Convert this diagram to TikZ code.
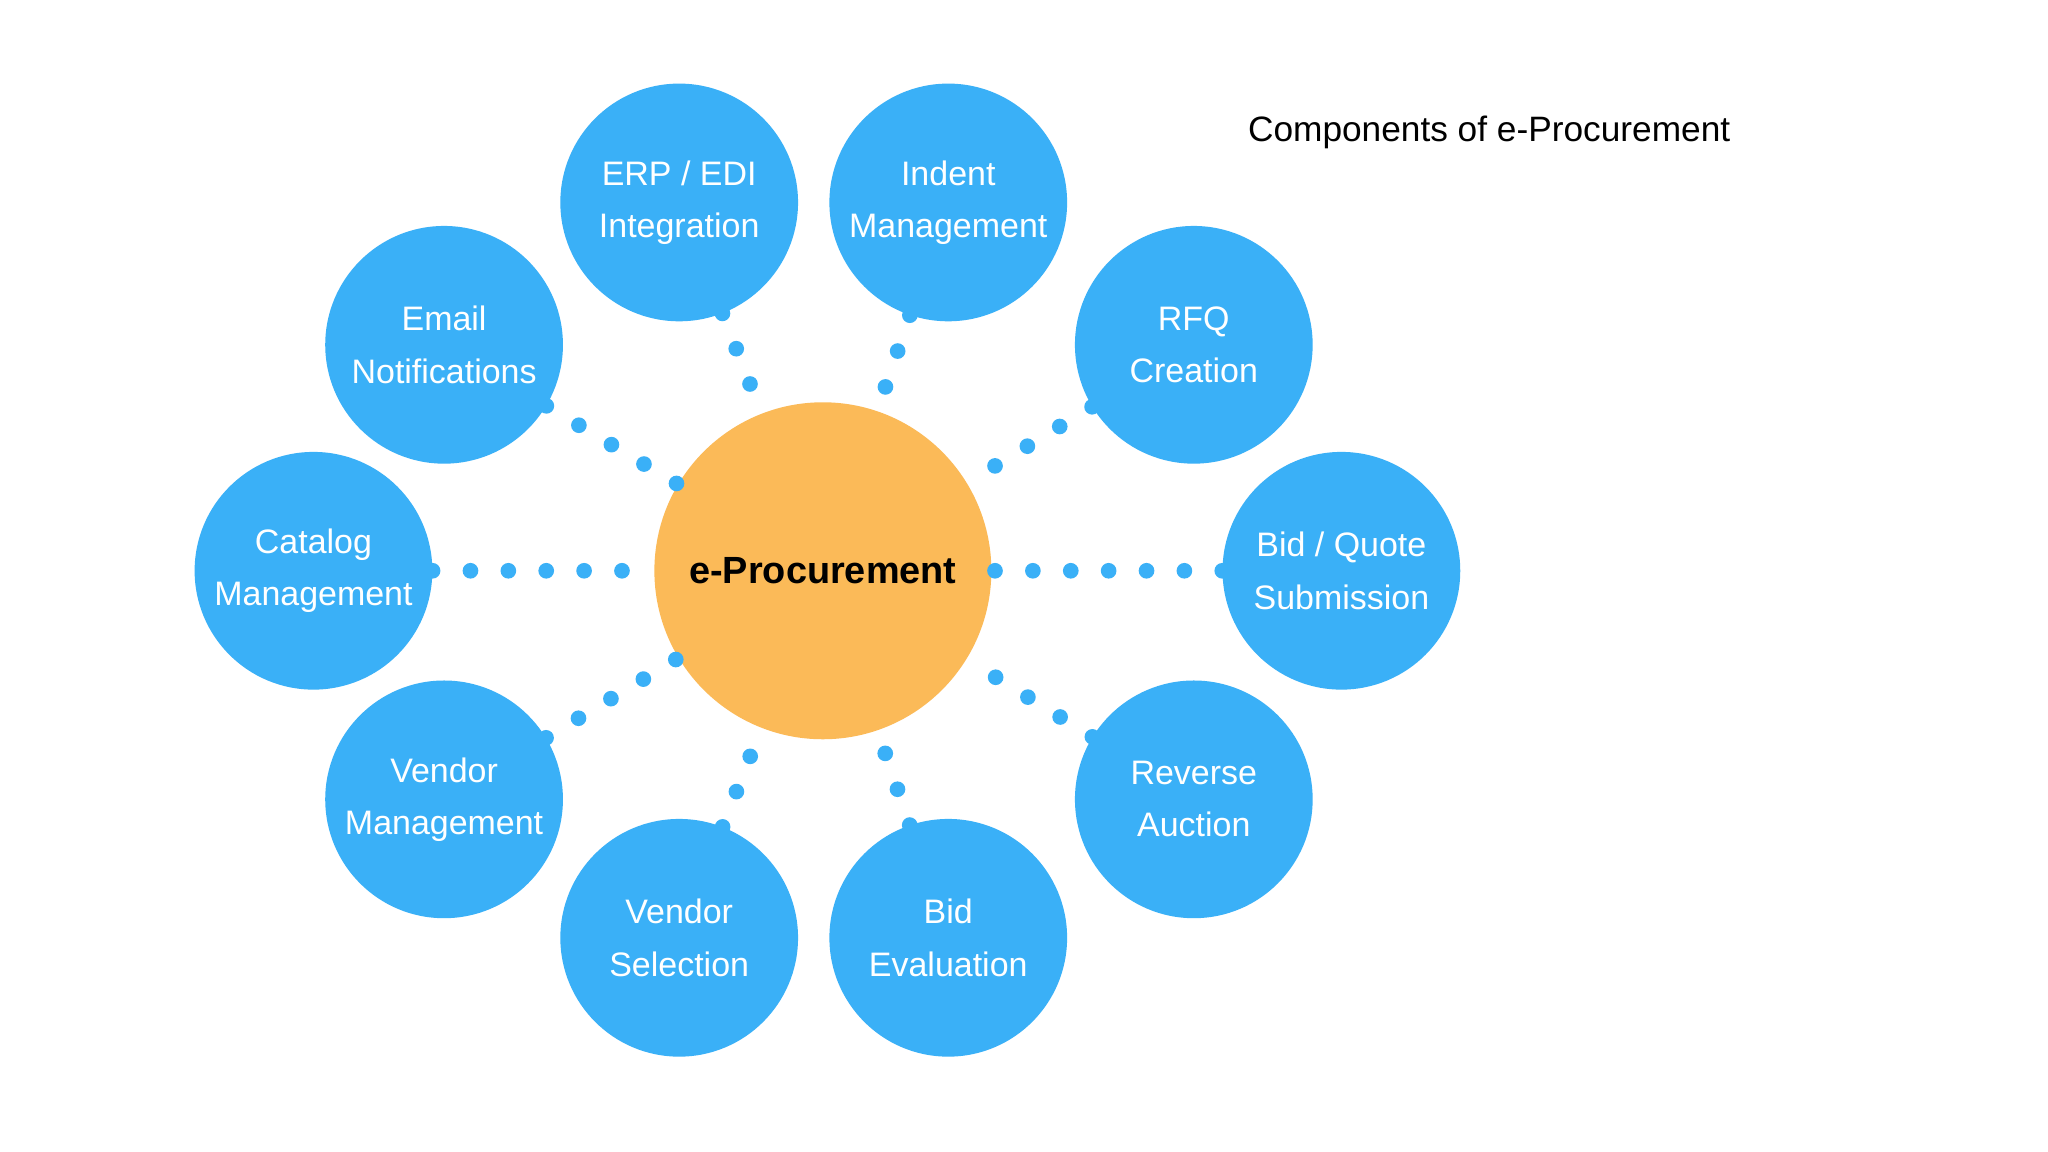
\documentclass[tikz,border=0pt]{standalone}
\usepackage{fontspec}
\setmainfont{Liberation Sans}
\definecolor{cblue}{HTML}{3AB0F7}
\definecolor{corange}{HTML}{FBBA58}
\begin{document}
\begin{tikzpicture}[x=1pt,y=-1pt,
  comp/.style={circle,fill=cblue,minimum size=182pt,inner sep=0pt,text=white,align=center,font=\fontsize{26}{40}\selectfont},
  hub/.style={circle,fill=corange,minimum size=258pt,inner sep=0pt,font=\bfseries\fontsize{29}{34}\selectfont},
  link/.style={draw=cblue,line width=12pt,line cap=round,dash pattern=on 0pt off 29pt}]
\useasboundingbox (0,0) rectangle (1568,882);
\fill[white] (0,0) rectangle (1568,882);
\node[hub] (c) at (630,437) {e-Procurement};
\node[comp] (erp) at (520,155) {ERP / EDI\\Integration};
\node[comp] (ind) at (726,155) {Indent\\Management};
\node[comp] (em) at (340,264) {Email\\Notifications};
\node[comp] (rfq) at (914,264) {RFQ\\Creation};
\node[comp] (cat) at (240,437) {Catalog\\Management};
\node[comp] (bid) at (1027,437) {Bid / Quote\\Submission};
\node[comp] (vm) at (340,612) {Vendor\\Management};
\node[comp] (ra) at (914,612) {Reverse\\Auction};
\node[comp] (vs) at (520,718) {Vendor\\Selection};
\node[comp] (be) at (726,718) {Bid\\Evaluation};
\foreach \n in {erp,ind,em,rfq,cat,bid,vm,ra,vs,be}
  \draw[link] (\n) -- (c);
\node[anchor=west,font=\fontsize{27}{32}\selectfont] (t) at (952,101) {Components of e-Procurement};
\end{tikzpicture}
\end{document}
